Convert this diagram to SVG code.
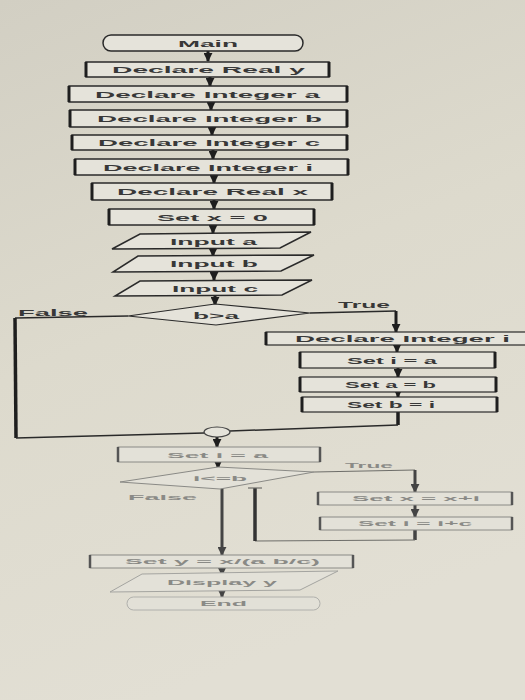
<svg xmlns="http://www.w3.org/2000/svg" width="525" height="700" viewBox="0 0 525 700">
<defs>
<linearGradient id="bg" x1="0" y1="0" x2="0.3" y2="1">
<stop offset="0" stop-color="#d2cfc3"/>
<stop offset="0.5" stop-color="#dddacd"/>
<stop offset="1" stop-color="#e2dfd4"/>
</linearGradient>
<marker id="ah" viewBox="0 0 10 10" refX="9" refY="5" markerWidth="3" markerHeight="3" orient="auto" markerUnits="strokeWidth">
<path d="M0,0 L10,5 L0,10 z" fill="#1e1e1e"/>
</marker>
<marker id="ahl" viewBox="0 0 10 10" refX="9" refY="5" markerWidth="3" markerHeight="3" orient="auto" markerUnits="strokeWidth">
<path d="M0,0 L10,5 L0,10 z" fill="#444"/>
</marker>
</defs>
<style>
.box{fill:#e5e3da;stroke:#2a2a2a;stroke-width:1.5}
.boxl{fill:#e3e1d8;stroke:#8a8a86;stroke-width:1}
.side{stroke:#1e1e1e;stroke-width:3}
.sidel{stroke:#555;stroke-width:2.5}
.t{font-family:"Liberation Sans",Arial,sans-serif;font-weight:bold;font-size:9.5px;fill:#383838;text-anchor:start;dominant-baseline:central}
.tl{font-family:"Liberation Sans",Arial,sans-serif;font-weight:bold;font-size:8px;fill:#8a8a86;dominant-baseline:central}
.c{fill:none;stroke:#2a2a2a;stroke-width:1.5}
.cl{fill:none;stroke:#6e6e6a;stroke-width:1.2}
.a{fill:none;stroke:#1e1e1e;stroke-width:3;marker-end:url(#ah)}
.al{fill:none;stroke:#444;stroke-width:3;marker-end:url(#ahl)}
.v{stroke:#1e1e1e;stroke-width:3.5}
</style>
<rect width="525" height="700" fill="url(#bg)"/>

<g id="connectors">
<line class="a" x1="208" y1="51" x2="208" y2="61"/>
<line class="a" x1="210" y1="77" x2="210" y2="86"/>
<line class="a" x1="211" y1="102" x2="211" y2="110"/>
<line class="a" x1="212" y1="127" x2="212" y2="135"/>
<line class="a" x1="213" y1="150" x2="213" y2="159"/>
<line class="a" x1="214" y1="175" x2="214" y2="183"/>
<line class="a" x1="214" y1="200" x2="214" y2="209"/>
<line class="a" x1="213" y1="225" x2="213" y2="233"/>
<line class="a" x1="213" y1="249" x2="213" y2="256"/>
<line class="a" x1="214" y1="272" x2="214" y2="280"/>
<line class="a" x1="215" y1="296" x2="215" y2="305"/>
<polyline class="c" points="128,316 15,318"/>
<line class="v" x1="15" y1="318" x2="16" y2="438"/>
<polyline class="c" points="16,438 204,433"/>
<polyline class="c" points="310,313 396,311"/>
<line class="a" x1="396" y1="311" x2="396" y2="332"/>
<line class="a" x1="397" y1="345" x2="397" y2="352"/>
<line class="a" x1="398" y1="368" x2="398" y2="377"/>
<line class="a" x1="398" y1="392" x2="398" y2="397"/>
<line class="v" x1="398" y1="412" x2="398" y2="425"/>
<polyline class="c" points="398,425 230,431"/>
<line class="a" x1="217" y1="437" x2="217" y2="447"/>
<line class="a" x1="218" y1="462" x2="218" y2="468"/>
<polyline class="cl" points="314,472 415,470"/>
<line class="al" x1="415" y1="470" x2="415" y2="492"/>
<line class="al" x1="415" y1="505" x2="415" y2="517"/>
<line class="v" x1="415" y1="530" x2="415" y2="540" style="stroke:#444"/>
<polyline class="cl" points="415,540 255,541"/>
<line class="v" x1="255" y1="541" x2="255" y2="488" style="stroke:#333"/>
<line class="cl" x1="248" y1="488" x2="262" y2="488"/>
<line class="al" x1="222" y1="488" x2="222" y2="555"/>
<line class="al" x1="222" y1="568" x2="222" y2="575"/>
<line class="al" x1="222" y1="590" x2="222" y2="597"/>
</g>

<g id="main">
<rect class="box" x="103" y="35" width="200" height="16" rx="8"/>
<text class="t" x="178" y="43" textLength="60" lengthAdjust="spacingAndGlyphs">Main</text>
</g>
<g id="declare-real-y">
<rect class="box" x="86" y="62" width="243" height="15"/>
<line class="side" x1="86" y1="62" x2="86" y2="77"/><line class="side" x1="329" y1="62" x2="329" y2="77"/>
<text class="t" x="112" y="69.5" textLength="193" lengthAdjust="spacingAndGlyphs">Declare Real y</text>
</g>
<g id="declare-integer-a">
<rect class="box" x="69" y="86" width="278" height="16"/>
<line class="side" x1="69" y1="86" x2="69" y2="102"/><line class="side" x1="347" y1="86" x2="347" y2="102"/>
<text class="t" x="95" y="94" textLength="225" lengthAdjust="spacingAndGlyphs">Declare Integer a</text>
</g>
<g id="declare-integer-b">
<rect class="box" x="70" y="110" width="277" height="17"/>
<line class="side" x1="70" y1="110" x2="70" y2="127"/><line class="side" x1="347" y1="110" x2="347" y2="127"/>
<text class="t" x="97" y="118.5" textLength="225" lengthAdjust="spacingAndGlyphs">Declare Integer b</text>
</g>
<g id="declare-integer-c">
<rect class="box" x="72" y="135" width="275" height="15"/>
<line class="side" x1="72" y1="135" x2="72" y2="150"/><line class="side" x1="347" y1="135" x2="347" y2="150"/>
<text class="t" x="98" y="142.5" textLength="222" lengthAdjust="spacingAndGlyphs">Declare Integer c</text>
</g>
<g id="declare-integer-i">
<rect class="box" x="75" y="159" width="273" height="16"/>
<line class="side" x1="75" y1="159" x2="75" y2="175"/><line class="side" x1="348" y1="159" x2="348" y2="175"/>
<text class="t" x="103" y="167" textLength="210" lengthAdjust="spacingAndGlyphs">Declare Integer i</text>
</g>
<g id="declare-real-x">
<rect class="box" x="92" y="183" width="240" height="17"/>
<line class="side" x1="92" y1="183" x2="92" y2="200"/><line class="side" x1="332" y1="183" x2="332" y2="200"/>
<text class="t" x="117" y="191.5" textLength="191" lengthAdjust="spacingAndGlyphs">Declare Real x</text>
</g>
<g id="set-x-0">
<rect class="box" x="109" y="209" width="205" height="16"/>
<line class="side" x1="109" y1="209" x2="109" y2="225"/><line class="side" x1="314" y1="209" x2="314" y2="225"/>
<text class="t" x="157" y="217" textLength="111" lengthAdjust="spacingAndGlyphs">Set x = 0</text>
</g>
<g id="input-a">
<polygon class="box" points="140,234 311,232 280,248 112,249"/>
<text class="t" x="170" y="241" textLength="87" lengthAdjust="spacingAndGlyphs">Input a</text>
</g>
<g id="input-b">
<polygon class="box" points="138,256 314,255 281,271 113,272"/>
<text class="t" x="170" y="263.5" textLength="88" lengthAdjust="spacingAndGlyphs">Input b</text>
</g>
<g id="input-c">
<polygon class="box" points="140,281 312,280 282,295 115,296"/>
<text class="t" x="172" y="288" textLength="86" lengthAdjust="spacingAndGlyphs">Input c</text>
</g>
<g id="decision-b-gt-a">
<polygon class="box" points="215,304 310,313 216,325 128,316" style="stroke-width:1.2"/>
<text class="t" x="193" y="315" textLength="46" lengthAdjust="spacingAndGlyphs">b&gt;a</text>
<text class="t" x="18" y="312" textLength="70" lengthAdjust="spacingAndGlyphs">False</text>
<text class="t" x="338" y="304" textLength="52" lengthAdjust="spacingAndGlyphs">True</text>
</g>
<g id="declare-integer-i-2">
<rect class="box" x="266" y="332" width="264" height="13" style="stroke-width:1.2"/>
<line class="side" x1="266" y1="332" x2="266" y2="345"/>
<text class="t" x="295" y="338.5" textLength="215" lengthAdjust="spacingAndGlyphs">Declare Integer i</text>
</g>
<g id="set-i-a">
<rect class="box" x="300" y="352" width="195" height="16" style="stroke-width:1.2"/>
<line class="side" x1="300" y1="352" x2="300" y2="368"/><line class="side" x1="495" y1="352" x2="495" y2="368"/>
<text class="t" x="347" y="360" textLength="90" lengthAdjust="spacingAndGlyphs">Set i = a</text>
</g>
<g id="set-a-b">
<rect class="box" x="300" y="377" width="196" height="15" style="stroke-width:1.2"/>
<line class="side" x1="300" y1="377" x2="300" y2="392"/><line class="side" x1="496" y1="377" x2="496" y2="392"/>
<text class="t" x="345" y="384.5" textLength="91" lengthAdjust="spacingAndGlyphs">Set a = b</text>
</g>
<g id="set-b-i">
<rect class="box" x="302" y="397" width="195" height="15" style="stroke-width:1.2"/>
<line class="side" x1="302" y1="397" x2="302" y2="412"/><line class="side" x1="497" y1="397" x2="497" y2="412"/>
<text class="t" x="347" y="404.5" textLength="88" lengthAdjust="spacingAndGlyphs">Set b = i</text>
</g>
<g id="junction">
<ellipse cx="217" cy="432" rx="13" ry="5" fill="#e5e3da" stroke="#444" stroke-width="1.2"/>
</g>
<g id="set-i-a-2">
<rect class="boxl" x="118" y="447" width="202" height="15"/>
<line class="sidel" x1="118" y1="447" x2="118" y2="462"/><line class="sidel" x1="320" y1="447" x2="320" y2="462"/>
<text class="tl" x="167" y="455" textLength="101" lengthAdjust="spacingAndGlyphs">Set i = a</text>
</g>
<g id="decision-i-le-b">
<polygon class="boxl" points="218,467 314,472 220,489 120,482"/>
<text class="tl" x="193" y="478" textLength="54" lengthAdjust="spacingAndGlyphs">i&lt;=b</text>
<text class="tl" x="345" y="465" textLength="48" lengthAdjust="spacingAndGlyphs">True</text>
<text class="tl" x="128" y="497" textLength="69" lengthAdjust="spacingAndGlyphs">False</text>
</g>
<g id="set-x-x-i">
<rect class="boxl" x="318" y="492" width="194" height="13"/>
<line class="sidel" x1="318" y1="492" x2="318" y2="505"/><line class="sidel" x1="512" y1="492" x2="512" y2="505"/>
<text class="tl" x="352" y="498.5" textLength="128" lengthAdjust="spacingAndGlyphs">Set x = x+i</text>
</g>
<g id="set-i-i-c">
<rect class="boxl" x="320" y="517" width="192" height="13"/>
<line class="sidel" x1="320" y1="517" x2="320" y2="530"/><line class="sidel" x1="512" y1="517" x2="512" y2="530"/>
<text class="tl" x="358" y="523.5" textLength="114" lengthAdjust="spacingAndGlyphs">Set i = i+c</text>
</g>
<g id="set-y">
<rect class="boxl" x="90" y="555" width="263" height="13"/>
<line class="sidel" x1="90" y1="555" x2="90" y2="568"/><line class="sidel" x1="353" y1="555" x2="353" y2="568"/>
<text class="tl" x="125" y="561.5" textLength="195" lengthAdjust="spacingAndGlyphs">Set y = x/(a b/c)</text>
</g>
<g id="display-y">
<polygon class="boxl" points="142,574 338,571 300,590 110,592" style="stroke:#a4a4a0"/>
<text class="tl" x="167" y="582" textLength="110" lengthAdjust="spacingAndGlyphs">Display y</text>
</g>
<g id="end">
<rect x="127" y="597" width="193" height="13" rx="6.5" fill="#e2e0d7" stroke="#b0b0ac" stroke-width="1"/>
<text class="tl" x="200" y="603.5" textLength="47" lengthAdjust="spacingAndGlyphs">End</text>
</g>
</svg>
